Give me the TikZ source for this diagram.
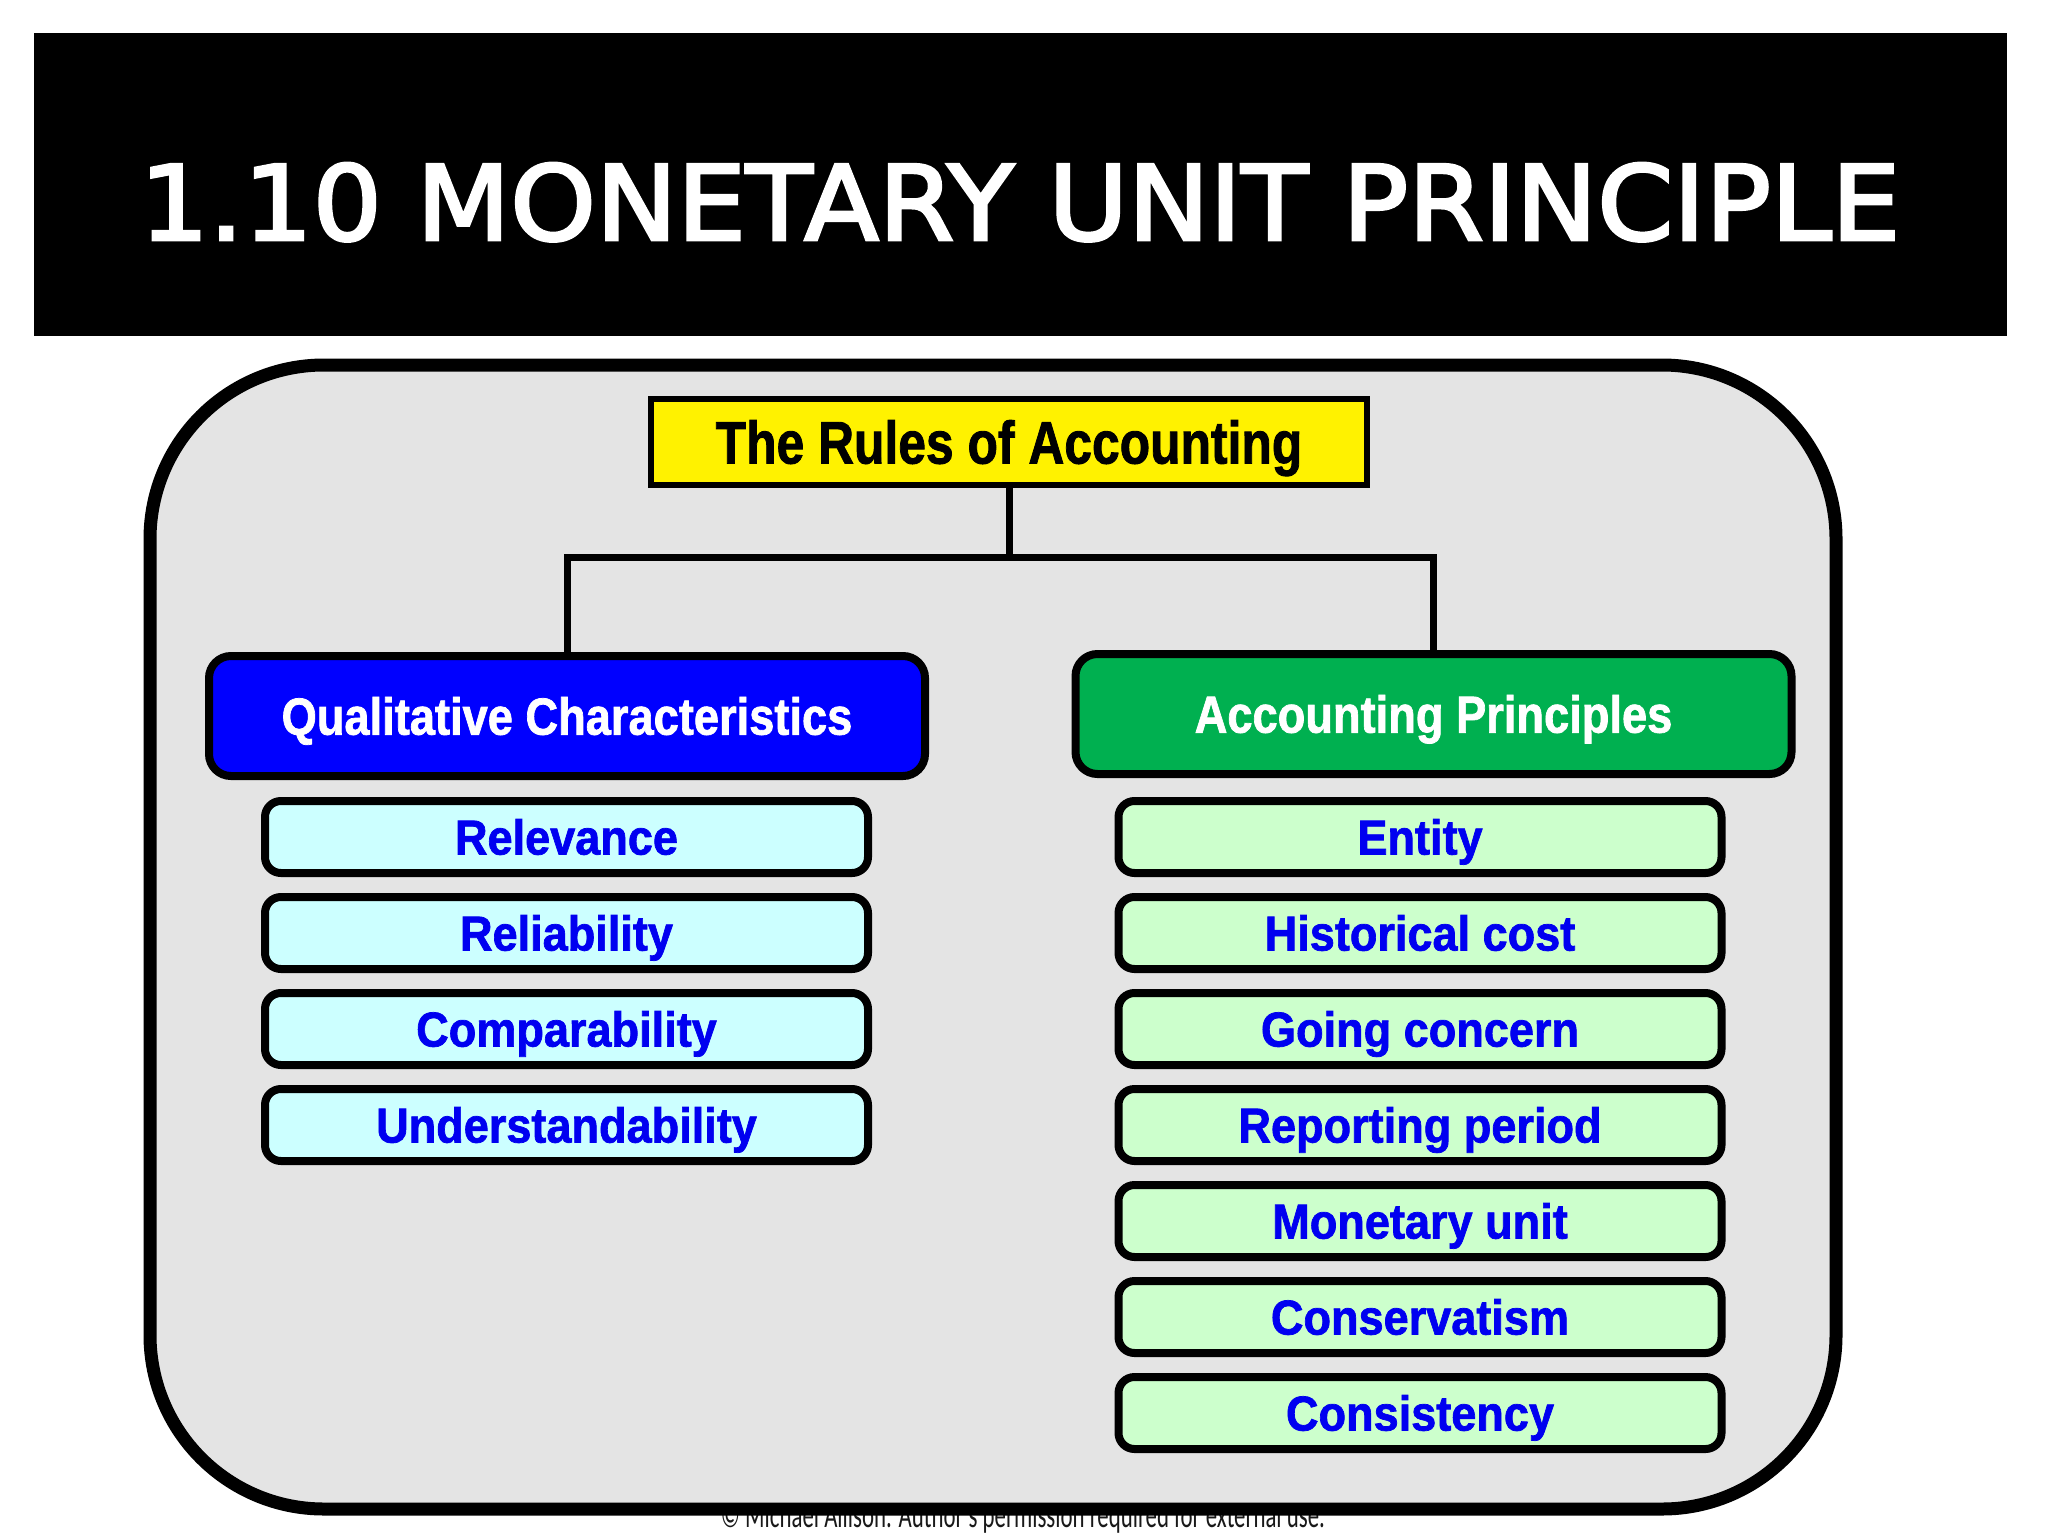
\documentclass[tikz,border=0pt]{standalone}
\usepackage{fontspec}
\usepackage{graphicx}
\newfontfamily\boxfont{Liberation Sans}[BoldFeatures={FakeBold=1.5}]
\newfontfamily\titlefont{DejaVu Sans}[FakeBold=2.8]
\newfontfamily\notefont{Carlito}
\definecolor{panelgray}{RGB}{228,228,228}
\definecolor{apgreen}{RGB}{0,176,80}
\definecolor{qcblue}{RGB}{0,0,255}
\definecolor{itemcyan}{RGB}{204,255,255}
\definecolor{itemgreen}{RGB}{204,255,204}
\definecolor{itemtext}{RGB}{0,0,240}
\newcommand{\hsqz}[2]{\scalebox{#1}[1]{#2}}
\begin{document}
\begin{tikzpicture}[x=0.5pt,y=-0.5pt,
  rootbox/.style={draw=black, line width=3pt, fill=yellow, minimum width=358pt, minimum height=43pt, inner sep=0pt,
    font=\boxfont\bfseries\fontsize{30}{30}\selectfont, text height=21.5pt, text depth=0pt},
  headbox/.style={draw=black, line width=4pt, rounded corners=11pt, minimum width=358pt, minimum height=60pt, inner sep=0pt,
    text=white, font=\boxfont\bfseries\fontsize{26}{26}\selectfont, text height=18.6pt, text depth=0pt},
  itembox/.style={draw=black, line width=4pt, rounded corners=8pt, minimum width=301.5pt, minimum height=36pt, inner sep=0pt,
    text=itemtext, font=\boxfont\bfseries\fontsize{24.5}{24.5}\selectfont, text height=17.5pt, text depth=0pt},
  qitem/.style={itembox, fill=itemcyan},
  aitem/.style={itembox, fill=itemgreen},
  panelbox/.style={draw=black, line width=6.5pt, fill=panelgray, rounded corners=87pt, minimum width=843pt, minimum height=572pt, inner sep=0pt},
  conn/.style={draw=black, line width=3.5pt}
]
\fill[white] (0,0) rectangle (2048,1536);
\useasboundingbox (0,0) rectangle (2048,1536);

% title bar
\fill[black] (34,33) rectangle (2007,336);
\node[text=white, inner sep=0pt, anchor=base] (title) at (1020,240)
  {\resizebox{880pt}{38.5pt}{\titlefont 1.10 MONETARY UNIT PRINCIPLE}};

% copyright note (partly hidden behind the panel border)
\node[anchor=base, inner sep=0pt, text=black!90] (note) at (1023,1527)
  {\resizebox{302pt}{12.5pt}{\notefont\fontsize{12}{12}\selectfont © Michael Allison. Author's permission required for external use.}};

% panel
\node[panelbox] (panel) at (993,937) {};

% root and heads
\node[rootbox] (root) at (1009,442) {\hsqz{0.83}{The Rules of Accounting}};
\node[headbox, fill=qcblue] (qc) at (567,716) {\hsqz{0.87}{Qualitative Characteristics}};
\node[headbox, fill=apgreen] (ap) at (1433.5,714) {\hsqz{0.87}{Accounting Principles}};

% connectors
\coordinate (bar) at (1004,557);
\draw[conn] (root.south) -- (root.south |- bar);
\draw[conn] (qc.north) -- (qc.north |- bar) -- (ap.north |- bar) -- (ap.north);

% left items
\node[qitem] (q1) at (566.5,837)  {\hsqz{0.92}{Relevance}};
\node[qitem] (q2) at (566.5,933)  {\hsqz{0.92}{Reliability}};
\node[qitem] (q3) at (566.5,1029) {\hsqz{0.92}{Comparability}};
\node[qitem] (q4) at (566.5,1125) {\hsqz{0.92}{Understandability}};

% right items
\node[aitem] (a1) at (1420,837)  {\hsqz{0.92}{Entity}};
\node[aitem] (a2) at (1420,933)  {\hsqz{0.92}{Historical cost}};
\node[aitem] (a3) at (1420,1029) {\hsqz{0.92}{Going concern}};
\node[aitem] (a4) at (1420,1125) {\hsqz{0.92}{Reporting period}};
\node[aitem] (a5) at (1420,1221) {\hsqz{0.92}{Monetary unit}};
\node[aitem] (a6) at (1420,1317) {\hsqz{0.92}{Conservatism}};
\node[aitem] (a7) at (1420,1413) {\hsqz{0.92}{Consistency}};
\end{tikzpicture}
\end{document}
